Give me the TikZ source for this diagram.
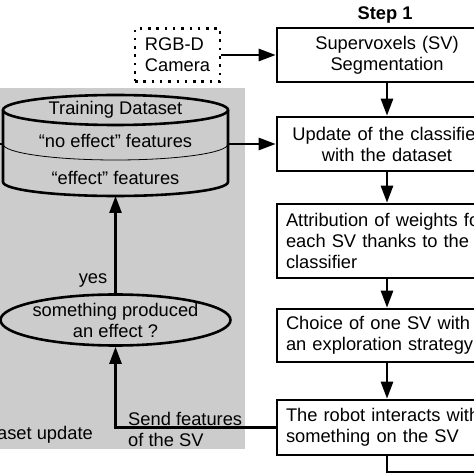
\documentclass[tikz,border=0pt]{standalone}
\usepackage{fontspec}
\setmainfont{Liberation Sans}
\usetikzlibrary{calc,arrows.meta,shapes.geometric}
\tikzstyle{stepbox}=[
    draw,line width=2.6pt,
    minimum width=220pt,
    inner xsep=9pt,inner ysep=0pt,
    text width=202pt,align=left
    ]
\tikzstyle{centerbox}=[stepbox,align=center]
\tikzstyle{flow}=[line width=2.6pt,-{Triangle[length=17pt,width=12pt]}]
\tikzstyle{link}=[line width=2.6pt]
\tikzstyle{plain}=[inner sep=0pt]

\begin{document}
\begin{tikzpicture}[
x=1pt,y=1pt,
font=\fontsize{18.3}{21}\selectfont
]
\clip (0,0) rectangle (474,474);
%grey area of the dataset update
\fill[black!20] (-10,25) rectangle (245,386);
%steps
\node[font=\fontsize{18.3}{21}\selectfont\bfseries] (step) at (385,459) {Step 1};
\node[centerbox,minimum height=54pt] (segm) at (387,419) {Supervoxels (SV)\\Segmentation};
\node[centerbox,minimum height=54pt] (update) at (387,330) {Update of the classifier\\with the dataset};
\node[stepbox,minimum height=74pt] (weights) at (387,233) {Attribution of weights for\\each SV thanks to the\\classifier};
\node[stepbox,minimum height=53pt] (choice) at (387,138.5) {Choice of one SV with\\an exploration strategy};
\node[stepbox,minimum height=55pt] (robot) at (387,46.5) {The robot interacts with\\something on the SV};
%camera
\node[draw,line width=2.5pt,dash pattern=on 2.5pt off 5.8pt,minimum width=85pt,minimum height=53pt,align=left] (camera) at (177.5,419) {RGB-D\\Camera};
%training dataset
\draw[link] (3,364) -- (3,292) arc[start angle=180,end angle=360,x radius=112.5,y radius=14] -- (228,364);
\draw[link] (115.5,364) ellipse[x radius=112.5,y radius=15];
\draw[line width=0.8pt] (3,330) arc[start angle=180,end angle=360,x radius=112.5,y radius=16];
\coordinate (cylL) at (3,330);
\coordinate (cylR) at (228,330);
\coordinate (cylBot) at (115.5,278);
\coordinate (leftOut) at (-10,330);
\node (title) at (115.5,364) {Training Dataset};
\node (noeff) at (115.5,333) {``no effect'' features};
\node (eff) at (115.5,296) {``effect'' features};
%effect test
\node[draw,ellipse,line width=2.6pt,minimum width=230pt,minimum height=51pt,inner xsep=-2pt,inner ysep=-1pt,align=center] (effectQ) at (115.5,154) {something produced\\an effect ?};
\node (yes) at (93,194) {yes};
\node[plain,anchor=west,align=left] (sendLbl) at (128,45) {Send features\\of the SV};
\node[plain,anchor=east] (updLbl) at (93,39) {Dataset update};
%arrows
\draw[flow] (camera.east) -- (segm.west);
\draw[flow] (segm.south) -- (update.north);
\draw[flow] (update.south) -- (weights.north);
\draw[flow] (weights.south) -- (choice.north);
\draw[flow] (choice.south) -- (robot.north);
\draw[flow] (cylR) -- (update.west);
\draw[link] (cylL) -- (leftOut);
\draw[flow] (effectQ.north) -- (cylBot);
\draw[flow] (robot.west) -| (effectQ.south);
\coordinate (loopR) at (520,2);
\draw[link] (robot.south) |- (loopR);
\end{tikzpicture}
\end{document}
